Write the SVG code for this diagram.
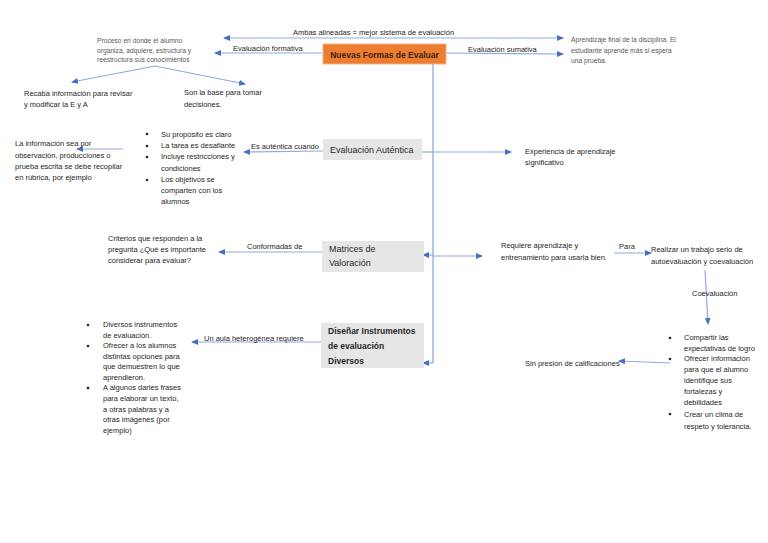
<svg xmlns="http://www.w3.org/2000/svg" width="768" height="543" viewBox="0 0 768 543">
<defs>
<marker id="ah" markerWidth="7" markerHeight="6" refX="6" refY="3" orient="auto" markerUnits="userSpaceOnUse">
<path d="M0,0 L7,3 L0,6 Z" fill="#4472c4"/>
</marker>
<style>
.c{stroke:#8faadc;stroke-width:1.2;fill:none;marker-end:url(#ah)}
.v{stroke:#b4c7e7;stroke-width:2;fill:none}
.t{font-family:"Liberation Sans",Arial,sans-serif;font-size:7.5px;fill:#262626}
.g{font-family:"Liberation Sans",Arial,sans-serif;font-size:6.7px;fill:#595959}
.b{font-family:"Liberation Sans",Arial,sans-serif;font-size:8.5px;fill:#262626;font-weight:bold}
.m{font-family:"Liberation Sans",Arial,sans-serif;font-size:9px;fill:#262626}
.box{fill:#e7e6e6}
</style>
</defs>
<rect width="768" height="543" fill="#ffffff"/>
<g id="connectors">
<line class="v" x1="433" y1="64" x2="433" y2="363"/>
<line class="c" x1="300" y1="38" x2="224" y2="38"/>
<line class="c" x1="300" y1="38" x2="563" y2="38"/>
<line class="c" x1="322" y1="53" x2="215" y2="53"/>
<line class="c" x1="446" y1="53" x2="563" y2="54"/>
<line class="c" x1="155" y1="66" x2="72" y2="82"/>
<line class="c" x1="155" y1="66" x2="245" y2="84"/>
<line class="c" x1="433" y1="152" x2="412" y2="152"/>
<line class="c" x1="433" y1="152" x2="511" y2="152"/>
<line class="c" x1="323" y1="151" x2="244" y2="152"/>
<line class="c" x1="123" y1="149" x2="77" y2="149"/>
<line class="c" x1="433" y1="255" x2="423" y2="255"/>
<line class="c" x1="433" y1="256" x2="482" y2="256"/>
<line class="c" x1="322" y1="252" x2="219" y2="252"/>
<line class="c" x1="614" y1="253" x2="651" y2="253"/>
<line class="c" x1="705" y1="270" x2="708" y2="324"/>
<line class="c" x1="670" y1="363" x2="619" y2="361"/>
<line class="c" x1="433" y1="363" x2="423" y2="363"/>
<line class="c" x1="321" y1="342" x2="192" y2="342"/>
</g>
<g id="n-top-label">
<text class="t" x="293" y="35">Ambas alineadas = mejor sistema de evaluación</text>
</g>
<g id="n-main">
<rect x="323" y="44" width="123" height="20" fill="#ed7d31" stroke="#f4b183" stroke-width="1"/>
<text x="384.5" y="57.5" text-anchor="middle" style="font-family:'Liberation Sans',Arial,sans-serif;font-size:8.5px;font-weight:bold;fill:#3b2414">Nuevas Formas de Evaluar</text>
</g>
<g id="n-formativa-label">
<text class="t" x="233" y="51">Evaluación formativa</text>
</g>
<g id="n-sumativa-label">
<text class="t" x="468" y="52">Evaluación sumativa</text>
</g>
<g id="n-proceso">
<text class="g" x="97" y="43">Proceso en donde el alumno</text>
<text class="g" x="97" y="53">organiza, adquiere, estructura y</text>
<text class="g" x="97" y="62">reestructura sus conocimientos</text>
</g>
<g id="n-aprendizaje-final">
<text class="g" x="571" y="42">Aprendizaje final de la disciplina. El</text>
<text class="g" x="571" y="53">estudiante aprende más si espera</text>
<text class="g" x="571" y="63">una prueba.</text>
</g>
<g id="n-recaba">
<text class="t" x="24" y="96">Recaba información para revisar</text>
<text class="t" x="24" y="107">y modificar la E y A</text>
</g>
<g id="n-son-base">
<text class="t" x="184" y="95">Son la base para tomar</text>
<text class="t" x="184" y="107">decisiones.</text>
</g>
<g id="n-autentica">
<rect class="box" x="323" y="139" width="99" height="21"/>
<text class="m" x="330" y="153">Evaluación Auténtica</text>
</g>
<g id="n-es-autentica-label">
<text class="t" x="251" y="149">Es auténtica cuando</text>
</g>
<g id="n-bullets-autentica">
<circle cx="147" cy="134" r="1.3" fill="#262626"/>
<circle cx="147" cy="146" r="1.3" fill="#262626"/>
<circle cx="147" cy="157" r="1.3" fill="#262626"/>
<circle cx="147" cy="180" r="1.3" fill="#262626"/>
<text class="t" x="161" y="137">Su propósito es claro</text>
<text class="t" x="161" y="148">La tarea es desafiante</text>
<text class="t" x="161" y="159">Incluye restricciones y</text>
<text class="t" x="161" y="171">condiciones</text>
<text class="t" x="161" y="182">Los objetivos se</text>
<text class="t" x="161" y="193">comparten con los</text>
<text class="t" x="161" y="204">alumnos</text>
</g>
<g id="n-informacion">
<text class="t" x="15" y="146">La información sea por</text>
<text class="t" x="15" y="158">observación, producciones o</text>
<text class="t" x="15" y="169">prueba escrita se debe recopilar</text>
<text class="t" x="15" y="180">en rúbrica, por ejemplo</text>
</g>
<g id="n-experiencia">
<text class="t" x="525" y="154">Experiencia de aprendizaje</text>
<text class="t" x="525" y="165">significativo</text>
</g>
<g id="n-matrices">
<rect class="box" x="322" y="241" width="102" height="31"/>
<text class="m" x="329" y="252">Matrices de</text>
<text class="m" x="329" y="266">Valoración</text>
</g>
<g id="n-conformadas-label">
<text class="t" x="247" y="249">Conformadas de</text>
</g>
<g id="n-criterios">
<text class="t" x="108" y="241">Criterios que responden a la</text>
<text class="t" x="108" y="252">pregunta ¿Qué es importante</text>
<text class="t" x="108" y="263">considerar para evaluar?</text>
</g>
<g id="n-requiere">
<text class="t" x="501" y="248">Requiere aprendizaje y</text>
<text class="t" x="501" y="260">entrenamiento para usarla bien.</text>
</g>
<g id="n-para-label">
<text class="t" x="619" y="249">Para</text>
</g>
<g id="n-realizar">
<text class="t" x="651" y="252">Realizar un trabajo serio de</text>
<text class="t" x="651" y="264">autoevaluación y coevaluación</text>
</g>
<g id="n-coevaluacion-label">
<text class="t" x="692" y="296">Coevaluación</text>
</g>
<g id="n-bullets-coevaluacion">
<circle cx="670" cy="338" r="1.3" fill="#262626"/>
<circle cx="670" cy="359" r="1.3" fill="#262626"/>
<circle cx="670" cy="414" r="1.3" fill="#262626"/>
<text class="t" x="684" y="340">Compartir las</text>
<text class="t" x="684" y="351">expectativas de logro</text>
<text class="t" x="684" y="361">Ofrecer información</text>
<text class="t" x="684" y="372">para que el alumno</text>
<text class="t" x="684" y="383">identifique sus</text>
<text class="t" x="684" y="394">fortalezas y</text>
<text class="t" x="684" y="405">debilidades</text>
<text class="t" x="684" y="417">Crear un clima de</text>
<text class="t" x="684" y="429">respeto y tolerancia.</text>
</g>
<g id="n-sin-presion">
<text class="t" x="525" y="366">Sin presión de calificaciones</text>
</g>
<g id="n-disenar">
<rect class="box" x="321" y="323" width="103" height="45"/>
<text class="b" x="328" y="334">Diseñar Instrumentos</text>
<text class="b" x="328" y="349">de evaluación</text>
<text class="b" x="328" y="364">Diversos</text>
</g>
<g id="n-aula-label">
<text class="t" x="204" y="341">Un aula heterogénea requiere</text>
</g>
<g id="n-bullets-disenar">
<circle cx="88" cy="325" r="1.3" fill="#262626"/>
<circle cx="88" cy="346" r="1.3" fill="#262626"/>
<circle cx="88" cy="388" r="1.3" fill="#262626"/>
<text class="t" x="103" y="327">Diversos instrumentos</text>
<text class="t" x="103" y="338">de evaluación.</text>
<text class="t" x="103" y="348">Ofrecer a los alumnos</text>
<text class="t" x="103" y="359">distintas opciones para</text>
<text class="t" x="103" y="369">que demuestren lo que</text>
<text class="t" x="103" y="380">aprendieron.</text>
<text class="t" x="103" y="390">A algunos darles frases</text>
<text class="t" x="103" y="401">para elaborar un texto,</text>
<text class="t" x="103" y="412">a otras palabras y a</text>
<text class="t" x="103" y="422">otras imágenes (por</text>
<text class="t" x="103" y="433">ejemplo)</text>
</g>
</svg>
